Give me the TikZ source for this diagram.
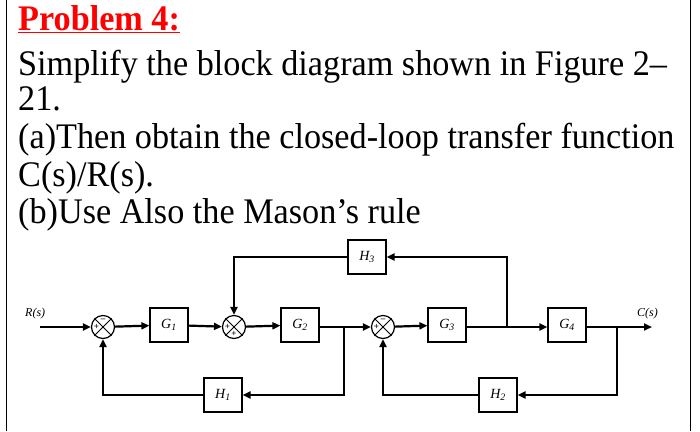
\documentclass[tikz,border=0pt]{standalone}
\usepackage{fontspec}
\setmainfont{Liberation Serif}
\usetikzlibrary{arrows.meta}
\begin{document}
\begin{tikzpicture}[x=1pt,y=-1pt,
  txt/.style={anchor=base west,inner sep=0pt,font=\fontsize{36}{36}\selectfont,xscale=0.95},
  blk/.style={draw,line width=1.2pt,minimum width=38pt,minimum height=34pt,inner sep=0pt,font=\fontsize{14}{14}\selectfont\itshape},
  sum/.style={draw,circle,line width=1.2pt,minimum size=23pt,inner sep=0pt},
  ln/.style={line width=2.2pt},
  ar/.style={ln,-{Triangle[length=8pt,width=7pt]}},
  sg/.style={font=\fontsize{9}{9}\selectfont\bfseries,inner sep=0pt}]
\useasboundingbox (0,0) rectangle (700,431);
\draw[line width=0.8pt] (6,0) -- (6,431) (690,0) -- (690,431);
\node[txt,text=red,font=\fontsize{36}{36}\selectfont\bfseries] (t0) at (18,30) {\underline{Problem 4:}};
\node[txt] (t1) at (18,75) {Simplify the block diagram shown in Figure 2–};
\node[txt] (t2) at (18,110) {21.};
\node[txt] (t3) at (18,148) {(a)Then obtain the closed-loop transfer function};
\node[txt] (t4) at (18,186) {C(s)/R(s).};
\node[txt] (t5) at (18,223) {(b)Use Also the Mason’s rule};
% diagram
\coordinate (in) at (40,327);
\node[sum] (s1) at (103,327) {};
\node[blk] (g1) at (169,325) {G\textsubscript{1}};
\node[sum] (s2) at (234,327) {};
\node[blk] (g2) at (300,325) {G\textsubscript{2}};
\node[sum] (s3) at (383,327) {};
\node[blk] (g3) at (447,325) {G\textsubscript{3}};
\node[blk] (g4) at (567,325) {G\textsubscript{4}};
\node[blk] (h3) at (367,257) {H\textsubscript{3}};
\node[blk] (h1) at (223,395) {H\textsubscript{1}};
\node[blk] (h2) at (498,395) {H\textsubscript{2}};
\coordinate (j1) at (344,327);
\coordinate (j2) at (507,327);
\coordinate (j3) at (617,327);
\coordinate (out) at (652,327);
\foreach \s in {s1,s2,s3}{
  \draw[line width=0.9pt] (\s.north west) -- (\s.south east) (\s.north east) -- (\s.south west);}
\node[sg] at ([xshift=-6.5pt]s1.center) {+};
\node[sg] at ([yshift=6.5pt]s1.center) {–};
\node[sg] at ([xshift=-6.5pt]s2.center) {+};
\node[sg] at ([yshift=-6.5pt]s2.center) {+};
\node[sg] at ([xshift=-6.5pt]s3.center) {+};
\node[sg] at ([yshift=6.5pt]s3.center) {–};
\node[font=\fontsize{12}{12}\selectfont\itshape,anchor=south west,inner sep=1pt] (rl) at (24,320) {R(s)};
\node[font=\fontsize{12}{12}\selectfont\itshape,anchor=south west,inner sep=1pt] (cl) at (636,320) {C(s)};
\draw[ar] (in) -- (s1);
\draw[ar] (s1) -- (g1);
\draw[ar] (g1) -- (s2);
\draw[ar] (s2) -- (g2);
\draw[ln] (g2.east |- j1) -- (j1);
\draw[ar] (j1) -- (s3);
\draw[ar] (s3) -- (g3);
\draw[ar] (g3.east |- j2) -- (g4.west |- j2);
\draw[ar] (g4.east |- j3) -- (out);
\draw[ar] (j2) |- (h3);
\draw[ar] (h3) -| (s2);
\draw[ar] (j1) |- (h1);
\draw[ar] (h1) -| (s1);
\draw[ar] (j3) |- (h2);
\draw[ar] (h2) -| (s3);
\end{tikzpicture}
\end{document}
